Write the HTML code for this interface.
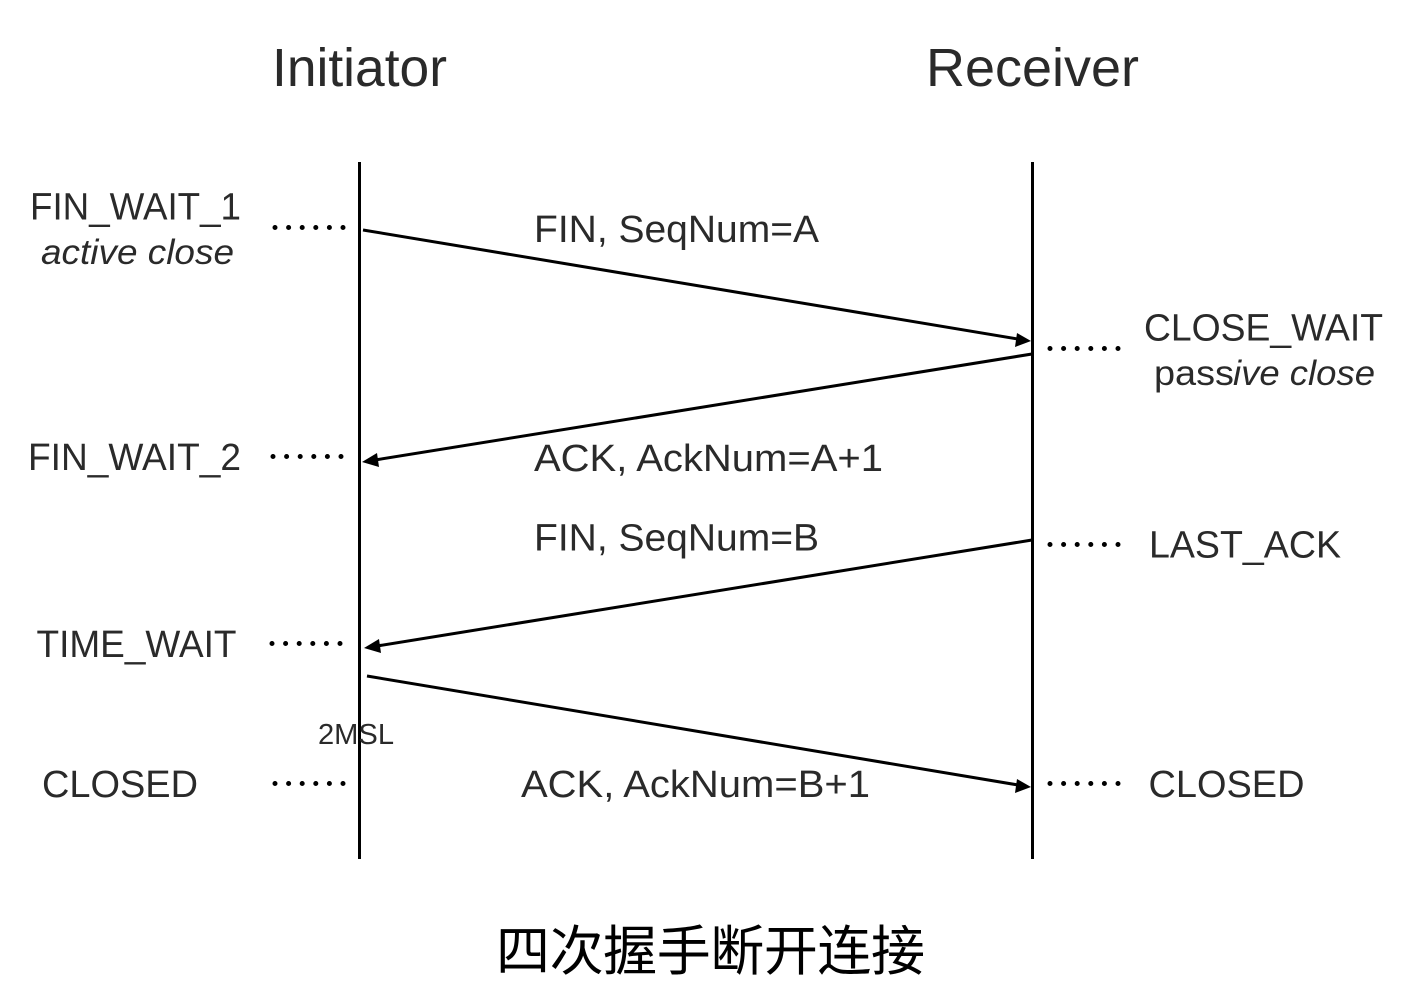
<!DOCTYPE html>
<html><head><meta charset="utf-8">
<style>
html,body{margin:0;padding:0;background:#fff;width:1426px;height:988px;overflow:hidden}
svg{display:block}
text{font-family:"Liberation Sans",sans-serif;fill:#2a2a2a}
.c{font-family:"Liberation Sans","Noto Sans CJK SC",sans-serif;fill:#000}
line.a{stroke:#000;stroke-width:3}
.d{stroke:#000;stroke-width:5;stroke-linecap:round;stroke-dasharray:0 13.6}
</style></head>
<body>
<svg width="1426" height="988" viewBox="0 0 1426 988" xmlns="http://www.w3.org/2000/svg">
<text x="272" y="86" font-size="54" textLength="175" lengthAdjust="spacingAndGlyphs">Initiator</text>
<text x="926" y="86" font-size="54" textLength="213" lengthAdjust="spacingAndGlyphs">Receiver</text>

<line class="a" x1="359.5" y1="162" x2="359.5" y2="859"/>
<line class="a" x1="1032.5" y1="162" x2="1032.5" y2="859"/>

<line class="a" x1="363" y1="230" x2="1018" y2="339"/>
<polygon points="1031,341 1015,347 1017,333"/>
<line class="a" x1="1032" y1="354" x2="375" y2="460"/>
<polygon points="362,462 377,453 379,467"/>
<line class="a" x1="1032" y1="540" x2="377" y2="646"/>
<polygon points="364,648 379,639 381,653"/>
<line class="a" x1="367" y1="676" x2="1018" y2="785"/>
<polygon points="1031,787 1015,793 1017,779"/>

<line class="d" x1="275" y1="227.5" x2="345" y2="227.5"/>
<line class="d" x1="273" y1="456.5" x2="343" y2="456.5"/>
<line class="d" x1="272" y1="643.5" x2="342" y2="643.5"/>
<line class="d" x1="275" y1="783.5" x2="345" y2="783.5"/>
<line class="d" x1="1050" y1="348.5" x2="1120" y2="348.5"/>
<line class="d" x1="1050" y1="544.5" x2="1120" y2="544.5"/>
<line class="d" x1="1050" y1="783.5" x2="1120" y2="783.5"/>

<text x="30" y="219.5" font-size="38" textLength="211" lengthAdjust="spacingAndGlyphs">FIN_WAIT_1</text>
<text x="41" y="264" font-size="35" font-style="italic" textLength="193" lengthAdjust="spacingAndGlyphs">active close</text>
<text x="28" y="470" font-size="38" textLength="213" lengthAdjust="spacingAndGlyphs">FIN_WAIT_2</text>
<text x="36.5" y="657" font-size="38" textLength="200" lengthAdjust="spacingAndGlyphs">TIME_WAIT</text>
<text x="42" y="797" font-size="38" textLength="156" lengthAdjust="spacingAndGlyphs">CLOSED</text>

<text x="1144" y="340.5" font-size="38" textLength="239" lengthAdjust="spacingAndGlyphs">CLOSE_WAIT</text>
<text x="1154" y="385" font-size="35" textLength="80" lengthAdjust="spacingAndGlyphs">pass</text>
<text x="1233" y="385" font-size="35" font-style="italic" textLength="142" lengthAdjust="spacingAndGlyphs">ive close</text>
<text x="1149" y="557.5" font-size="38" textLength="192" lengthAdjust="spacingAndGlyphs">LAST_ACK</text>
<text x="1148.5" y="797" font-size="38" textLength="156" lengthAdjust="spacingAndGlyphs">CLOSED</text>

<text x="534" y="242" font-size="38" textLength="285" lengthAdjust="spacingAndGlyphs">FIN, SeqNum=A</text>
<text x="534" y="471" font-size="38" textLength="349" lengthAdjust="spacingAndGlyphs">ACK, AckNum=A+1</text>
<text x="534" y="550.5" font-size="38" textLength="285" lengthAdjust="spacingAndGlyphs">FIN, SeqNum=B</text>
<text x="521" y="797" font-size="38" textLength="349" lengthAdjust="spacingAndGlyphs">ACK, AckNum=B+1</text>

<text x="318" y="744" font-size="29" textLength="76" lengthAdjust="spacingAndGlyphs">2MSL</text>

<text class="c" x="496" y="970" font-size="54" textLength="429" lengthAdjust="spacing">四次握手断开连接</text>
</svg>
</body></html>
